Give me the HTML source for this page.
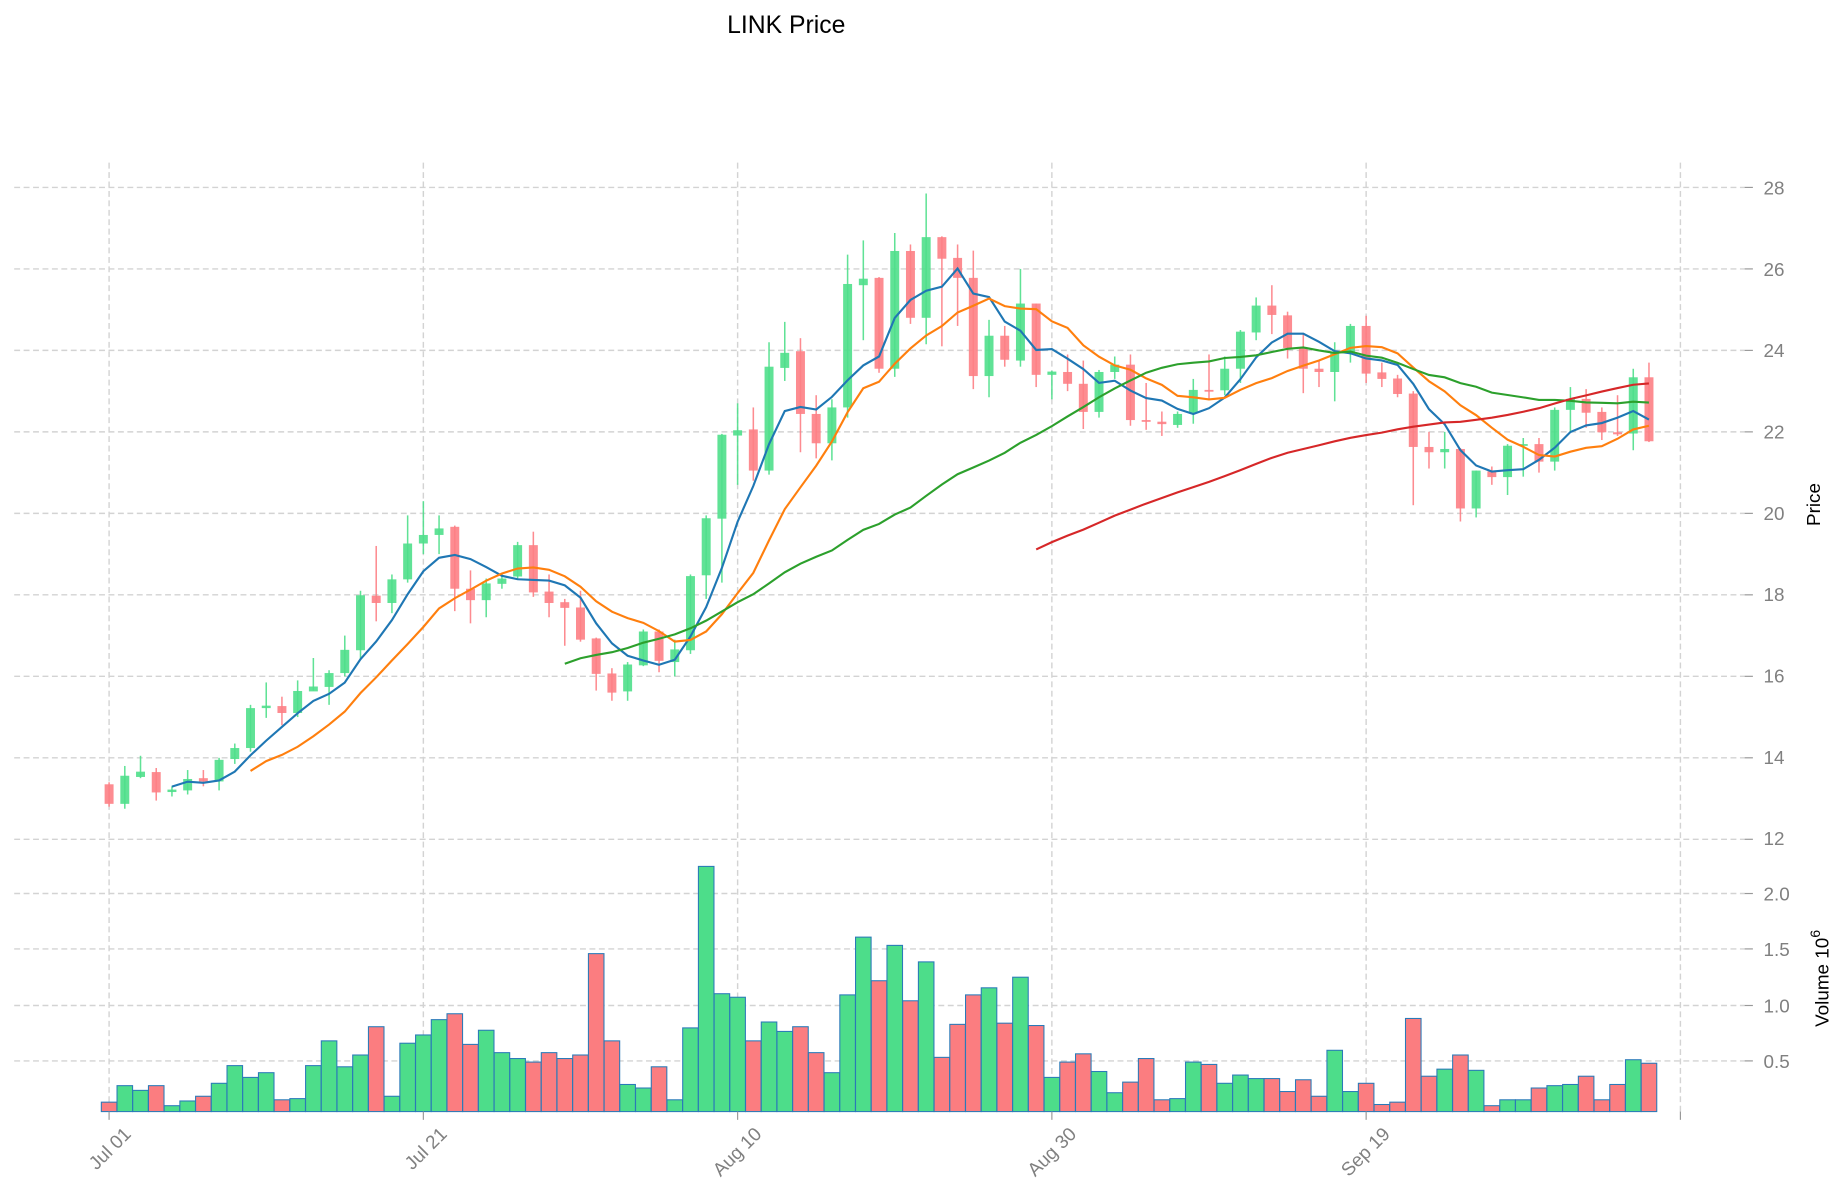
<!DOCTYPE html>
<html><head><meta charset="utf-8"><style>
html,body{margin:0;padding:0;background:#fff;}
svg{display:block;}
text{font-family:"Liberation Sans","DejaVu Sans",sans-serif;}
</style></head><body>
<svg id="s" width="1839" height="1202" viewBox="0 0 1560 1019.7" xmlns="http://www.w3.org/2000/svg">
<rect width="1560" height="1020" fill="#fff"/>
<g id="grid"></g>
<g id="vol"></g>
<g id="cand"></g>
<g id="ma"></g>
<g id="axes"></g>
<text x="667" y="28" font-size="21" text-anchor="middle" fill="#000">LINK Price</text>
<text transform="translate(1544,428) rotate(-90)" font-size="16" text-anchor="middle" fill="#000">Price</text>
<text transform="translate(1551,830) rotate(-90)" font-size="16" text-anchor="middle" fill="#000">Volume  10<tspan dy="-7" font-size="12">6</tspan></text>
<g font-size="16" fill="#808080" text-anchor="end">
<text transform="translate(112,963) rotate(-45)">Jul 01</text>
<text transform="translate(380,963) rotate(-45)">Jul 21</text>
<text transform="translate(647,963) rotate(-45)">Aug 10</text>
<text transform="translate(914,963) rotate(-45)">Aug 30</text>
<text transform="translate(1180,963) rotate(-45)">Sep 19</text>
</g>
<g font-size="16" fill="#808080">
<text x="1496" y="165">28</text><text x="1496" y="234">26</text><text x="1496" y="303">24</text><text x="1496" y="372">22</text>
<text x="1496" y="441">20</text><text x="1496" y="510">18</text><text x="1496" y="579">16</text><text x="1496" y="648">14</text><text x="1496" y="717">12</text>
<text x="1496" y="764">2.0</text><text x="1496" y="811">1.5</text><text x="1496" y="859">1.0</text><text x="1496" y="906">0.5</text>
</g>
</svg>
<script>
var D=[
[13.35,13.4,12.8,12.87],[12.87,13.8,12.75,13.56],[13.53,14.05,13.5,13.66],[13.65,13.75,12.95,13.15],[13.16,13.3,13.05,13.22],
[13.2,13.7,13.1,13.48],[13.5,13.7,13.3,13.42],[13.42,14.0,13.2,13.95],[13.97,14.35,13.85,14.24],[14.24,15.3,14.15,15.22],
[15.22,15.85,14.98,15.28],[15.27,15.5,14.8,15.1],[15.1,15.9,15.0,15.64],[15.63,16.45,15.65,15.75],[15.74,16.15,15.3,16.08],
[16.08,17.0,16.0,16.65],[16.64,18.1,16.4,17.99],[17.98,19.2,17.35,17.8],[17.8,18.5,17.55,18.38],[18.38,19.95,18.3,19.26],
[19.26,20.3,19.0,19.47],[19.47,19.95,19.0,19.63],[19.67,19.7,17.6,18.15],[18.15,18.6,17.3,17.87],[17.87,18.4,17.45,18.28],
[18.27,18.5,18.15,18.4],[18.45,19.3,18.4,19.22],[19.22,19.55,17.95,18.06],[18.08,18.5,17.45,17.8],[17.82,17.9,16.75,17.68],
[17.69,18.1,16.85,16.9],[16.93,16.95,15.65,16.06],[16.07,16.2,15.4,15.6],[15.63,16.35,15.4,16.29],[16.27,17.15,16.25,17.1],
[17.1,17.15,16.1,16.38],[16.35,16.9,16.0,16.66],[16.64,18.5,16.55,18.46],[18.48,19.95,17.9,19.88],[19.87,21.95,18.3,21.93],
[21.91,22.7,20.7,22.04],[22.06,22.6,20.8,21.05],[21.05,24.2,20.95,23.6],[23.57,24.7,23.25,23.94],[23.98,24.3,21.5,22.44],
[22.44,22.9,21.35,21.72],[21.72,22.8,21.3,22.6],[22.6,26.35,22.35,25.63],[25.6,26.7,24.25,25.76],[25.78,25.8,23.45,23.55],
[23.55,26.88,23.35,26.44],[26.44,26.6,24.65,24.8],[24.8,27.85,24.15,26.78],[26.78,26.8,24.1,26.25],[26.27,26.6,24.6,25.78],
[25.78,26.45,23.05,23.37],[23.37,24.75,22.85,24.36],[24.36,24.6,23.6,23.77],[23.75,26.0,23.6,25.15],[25.15,25.15,23.1,23.4],
[23.4,23.5,22.8,23.48],[23.47,23.9,23.0,23.18],[23.18,23.75,22.07,22.49],[22.49,23.52,22.35,23.47],[23.47,23.85,23.3,23.65],
[23.65,23.9,22.15,22.29],[22.29,23.2,22.05,22.25],[22.25,22.5,21.9,22.19],[22.17,22.5,22.1,22.44],[22.47,23.3,22.2,23.03],
[23.03,23.9,22.8,23.0],[23.02,23.85,22.9,23.55],[23.55,24.5,23.2,24.46],[24.44,25.3,24.25,25.1],[25.1,25.6,24.4,24.87],
[24.86,24.95,23.8,24.06],[24.06,24.4,22.95,23.55],[23.55,23.75,23.1,23.47],[23.47,24.2,22.75,23.96],[23.96,24.65,23.7,24.6],
[24.6,24.85,23.2,23.43],[23.46,23.7,23.1,23.3],[23.31,23.4,22.85,22.93],[22.94,23.0,20.2,21.63],[21.63,22.0,21.1,21.5],
[21.5,22.0,21.1,21.58],[21.58,21.6,19.8,20.12],[20.12,21.05,19.9,21.05],[21.03,21.15,20.7,20.89],[20.89,21.7,20.45,21.66],
[21.66,21.85,20.9,21.7],[21.7,21.85,21.0,21.27],[21.27,22.6,21.05,22.54],[22.54,23.1,22.0,22.81],[22.81,23.05,22.1,22.47],
[22.49,22.6,21.8,21.99],[21.99,22.9,21.9,21.94],[21.96,23.55,21.55,23.34],[23.34,23.7,21.75,21.77]];
var VY=[935,921,925,921,938,934,930,919,904,914,910,933,932,904,883,905,895,871,930,885,878,865,860,886,874,893,898,901,893,898,895,809,883,920,923,905,933,872,735,843,846,883,867,875,871,893,910,844,795,832,802,849,816,897,869,844,838,868,829,870,914,901,894,909,927,918,898,933,932,901,903,919,912,915,915,926,916,930,891,926,919,937,935,864,913,907,895,908,938,933,933,923,921,920,913,933,920,899,902];
var NS="http://www.w3.org/2000/svg";
function el(p,t,a){var e=document.createElementNS(NS,t);for(var k in a)e.setAttribute(k,a[k]);document.getElementById(p).appendChild(e);return e;}
function X(i){return 92.5+13.33*i;}
function Y(p){return 159+(28-p)*34.5625;}
var g="#d3d3d3";
for(var p=12;p<=28;p+=2){el("grid","line",{x1:12,x2:1480,y1:Y(p),y2:Y(p),stroke:g,"stroke-width":1.2,"stroke-dasharray":"5,3"});el("axes","line",{x1:1480,x2:1487,y1:Y(p),y2:Y(p),stroke:"#999","stroke-width":1});}
[758,805,853,900].forEach(function(y){el("grid","line",{x1:12,x2:1480,y1:y,y2:y,stroke:g,"stroke-width":1.2,"stroke-dasharray":"5,3"});el("axes","line",{x1:1480,x2:1487,y1:y,y2:y,stroke:"#999","stroke-width":1});});
for(var i=0;i<=100;i+=20){el("grid","line",{x1:X(i),x2:X(i),y1:138,y2:943,stroke:g,"stroke-width":1.2,"stroke-dasharray":"5,3"});el("axes","line",{x1:X(i),x2:X(i),y1:943,y2:950,stroke:"#999","stroke-width":1});}
var GC="#4fdf8b",RC="#fd7f85";
for(var i=0;i<D.length;i++){
 var d=D[i],up=d[3]>=d[0],c=up?GC:RC;
 el("vol","rect",{x:X(i)-6.6,y:VY[i],width:13.2,height:943-VY[i],fill:up?"#4ddd8a":"#fb7d80",stroke:"#2a7ab8","stroke-width":0.9});
 el("cand","line",{x1:X(i),x2:X(i),y1:Y(d[1]),y2:Y(d[2]),stroke:c,"stroke-width":1.3,opacity:0.9});
 var t=Y(Math.max(d[0],d[3])),b=Y(Math.min(d[0],d[3]));
 el("cand","rect",{x:X(i)-3.8,y:t,width:7.6,height:Math.max(b-t,1.5),fill:c,opacity:0.9});
}
function ma(n,col){var pts=[];for(var i=n-1;i<D.length;i++){var s=0;for(var j=i-n+1;j<=i;j++)s+=D[j][3];pts.push(X(i).toFixed(1)+","+Y(s/n).toFixed(1));}
 el("ma","polyline",{points:pts.join(" "),fill:"none",stroke:col,"stroke-width":1.8});}
ma(5,"#1f77b4");ma(10,"#ff7f0e");ma(30,"#2ca02c");ma(60,"#d62728");
</script>
</body></html>
